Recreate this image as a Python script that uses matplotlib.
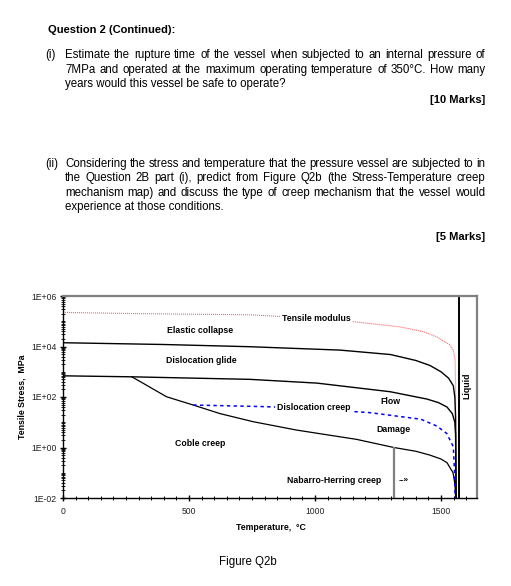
import matplotlib
matplotlib.use("Agg")
import matplotlib.pyplot as plt
from matplotlib.ticker import FixedLocator, LogLocator, NullFormatter

plt.rcParams['font.family'] = ['Liberation Sans', 'DejaVu Sans']

# question text
title = "Question 2 (Continued):"
part1 = ["Estimate the rupture time of the vessel when subjected to an internal pressure of",
         "7MPa and operated at the maximum operating temperature of 350\u00b0C.  How many",
         "years would this vessel be safe to operate?"]
part2 = ["Considering the stress and temperature that the pressure vessel are subjected to in",
         "the Question 2B part (i), predict from Figure Q2b (the Stress-Temperature creep",
         "mechanism map) and discuss the type of creep mechanism that the vessel would",
         "experience at those conditions."]

# creep map data (temperature in C, stress in MPa)
t_modulus = [0, 300, 742, 1000, 1159, 1337, 1429, 1484, 1536, 1549, 1556, 1558, 1559]
s_modulus = [2.24e5, 2.0e5, 1.8e5, 1.3e5, 9.5e4, 6.0e4, 3.9e4, 2.4e4, 1.15e4, 7.2e3, 2.95e3, 316, 0.01]

t_elastic = [0, 400, 742, 1100, 1300, 1400, 1456, 1500, 1530, 1549, 1555, 1558, 1560]
s_elastic = [1.41e4, 1.2e4, 9.8e3, 7.2e3, 4.8e3, 2.8e3, 1.78e3, 1.0e3, 560, 280, 100, 16, 0.01]

t_glide = [0, 273, 742, 1008, 1298, 1444, 1490, 1524, 1545, 1555, 1558, 1560]
s_glide = [690, 630, 500, 355, 162, 83, 60, 40, 22, 10, 3.2, 0.01]

t_coble = [273, 318, 411, 517, 623, 755, 927, 1165, 1313, 1400, 1456, 1500, 1524, 1548, 1556, 1558]
s_coble = [630, 350, 102, 48, 22, 10.5, 4.9, 2.1, 1.0, 0.71, 0.50, 0.35, 0.25, 0.10, 0.032, 0.01]

t_disl = [517, 600, 782, 1000, 1159, 1218, 1420, 1483, 1523, 1549, 1554, 1556]
s_disl = [48, 46, 42, 35.5, 26.3, 24, 13.2, 7.1, 3.6, 1.07, 0.1, 0.01]

t_liquid = 1571
t_nh = 1313
s_nh_top = 1.0

region_labels = [("Tensile modulus", 1004, 1.25e5), ("Elastic collapse", 544, 4.3e4),
                 ("Dislocation glide", 548, 2.75e3), ("Dislocation creep", 996, 39),
                 ("Flow", 1298, 66), ("Damage", 1310, 5.4), ("Coble creep", 544, 1.5),
                 ("Nabarro-Herring creep", 1075, 0.049)]

W, H = 511, 586
fig = plt.figure(figsize=(W / 100, H / 100), dpi=100)
renderer = fig.canvas.get_renderer()
FS = 8.3
FSB = 8.0


def px(x, y):
    return x / W, 1 - y / H


def justified(line, x0, x1, y, fs=FS):
    # spread the words of one line between x0 and x1
    words = line.split()
    arts = [fig.text(*px(x0, y), w, fontsize=fs, va='baseline') for w in words]
    widths = [a.get_window_extent(renderer).width for a in arts]
    gap = (x1 - x0 - sum(widths)) / (len(words) - 1)
    x = x0
    for a, w in zip(arts, widths):
        a.set_position(px(x, y))
        x += w + gap


fig.text(*px(47.5, 33), title, fontsize=FSB, fontweight='bold', va='baseline')

fig.text(*px(45, 58), "(i)", fontsize=FS, va='baseline')
justified(part1[0], 65, 485, 58)
justified(part1[1], 65, 485, 73)
fig.text(*px(65, 87), part1[2], fontsize=FS, va='baseline')
fig.text(*px(485, 103), "[10 Marks]", fontsize=FSB, fontweight='bold', va='baseline', ha='right')

fig.text(*px(45, 167), "(ii)", fontsize=FS, va='baseline')
justified(part2[0], 65, 485, 167)
justified(part2[1], 65, 485, 181)
justified(part2[2], 65, 485, 196)
fig.text(*px(65, 210), part2[3], fontsize=FS, va='baseline')
fig.text(*px(485, 240), "[5 Marks]", fontsize=FSB, fontweight='bold', va='baseline', ha='right')

fig.text(*px(247.5, 565), "Figure Q2b", fontsize=8.3, va='baseline', ha='center')

# chart
ax = fig.add_axes([63 / W, 1 - 498 / H, (477 - 63) / W, (498 - 296) / H])
ax.set_yscale('log')
ax.set_xlim(0, 1643)
ax.set_ylim(1e-2, 1e6)

ax.plot(t_modulus, s_modulus, color='#ff6a6a', lw=0.8, ls=(0, (1, 0.8)))
ax.plot(t_elastic, s_elastic, color='black', lw=1.0)
ax.plot(t_glide, s_glide, color='black', lw=1.0)
ax.plot(t_coble, s_coble, color='black', lw=0.9)
ax.plot(t_disl, s_disl, color='#0000ff', lw=1.1, ls=(0, (2.2, 2.2)))
ax.axvline(t_liquid, color='black', lw=1.4)
ax.plot([t_nh, t_nh], [1e-2, s_nh_top], color='#808080', lw=1.6)

boxed = {"Tensile modulus", "Dislocation creep"}
for text, tx, sy in region_labels:
    kw = {}
    if text in boxed:
        kw['bbox'] = dict(facecolor='white', edgecolor='none', pad=1.5)
    ax.text(tx, sy, text, fontsize=6.3, fontweight='bold', ha='center', va='center', **kw)
ax.text(1353, 0.049, "--\u00bb", fontsize=6, fontweight='bold', ha='center', va='center')
ax.text(1603, 285, "Liquid", fontsize=6.3, fontweight='bold', ha='center', va='center', rotation=90)

ax.yaxis.set_major_locator(FixedLocator([1e-2, 1, 1e2, 1e4, 1e6]))
ax.yaxis.set_minor_locator(LogLocator(base=10, subs=range(1, 10), numticks=30))
ax.yaxis.set_minor_formatter(NullFormatter())
ax.set_yticklabels(["1E-02", "1E+00", "1E+02", "1E+04", "1E+06"])
ax.set_xticks([0, 500, 1000, 1500])
ax.set_xticks(range(0, 1650, 50), minor=True)
ax.tick_params(which='both', direction='inout', labelsize=6.2, colors='black', labelcolor='#222222')
ax.tick_params(which='major', length=5, width=1)
ax.tick_params(which='minor', length=3.5, width=0.7)
ax.tick_params(axis='y', which='minor', length=2.5, width=0.6)
ax.tick_params(axis='x', pad=4)
ax.tick_params(axis='y', pad=2)

for side in ['top', 'right']:
    ax.spines[side].set_color('#808080')
    ax.spines[side].set_linewidth(1.6)
for side in ['left', 'bottom']:
    ax.spines[side].set_color('black')
    ax.spines[side].set_linewidth(1.0)

fig.text(*px(271, 528), "Temperature,  \u00b0C", fontsize=6.3, fontweight='bold', ha='center', va='center')
fig.text(*px(22, 397), "Tensile Stress,  MPa", fontsize=6.3, fontweight='bold', ha='center', va='center',
         rotation=90)

fig.savefig("out.png", dpi=100)
